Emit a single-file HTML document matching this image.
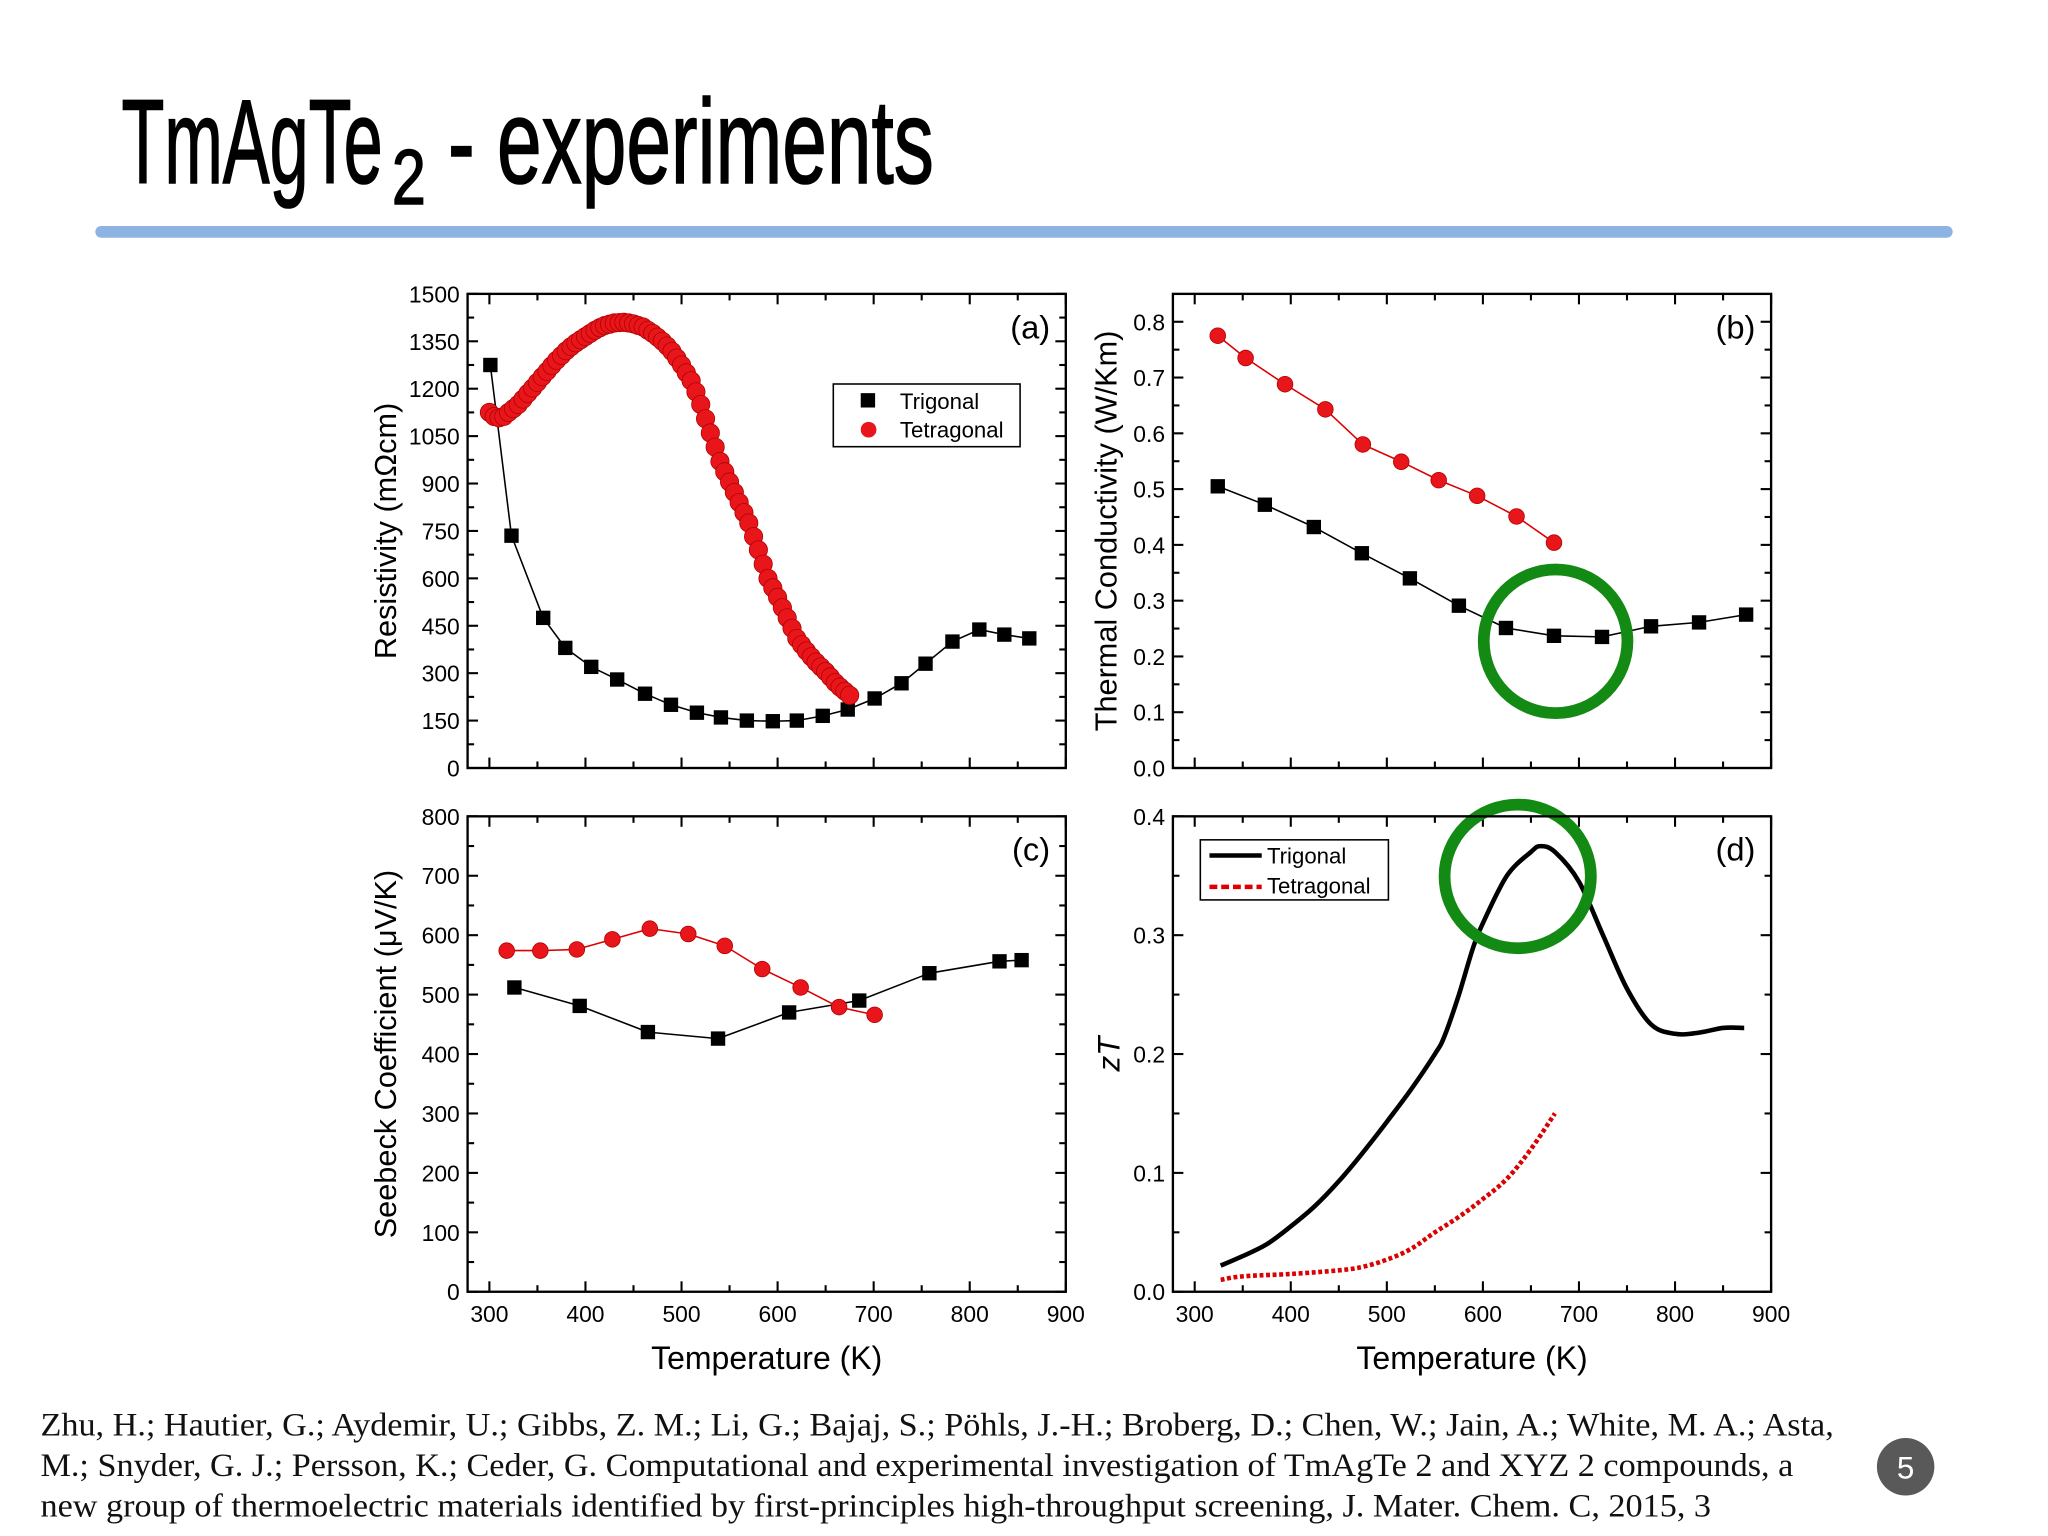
<!DOCTYPE html>
<html><head><meta charset="utf-8"><style>
html,body{margin:0;padding:0;background:#fff;}
svg{display:block;}
</style></head><body>
<svg id="root" xmlns="http://www.w3.org/2000/svg" width="2048" height="1536" viewBox="0 0 1568 1176">
<rect x="0" y="0" width="1568" height="1176" fill="#fff"/>
<g font-family="'Liberation Sans Narrow','Liberation Sans',sans-serif" fill="#000" stroke="#000" stroke-width="1.2">
<text x="93" y="140" font-size="92" textLength="200" lengthAdjust="spacingAndGlyphs">TmAgTe</text>
<text x="300" y="156" font-size="60" textLength="26" lengthAdjust="spacingAndGlyphs">2</text>
<text x="343" y="140" font-size="92" textLength="372" lengthAdjust="spacingAndGlyphs">- experiments</text>
</g>
<rect x="73" y="173" width="1422" height="9" rx="4.5" fill="#8db3e2"/>
<g id="charts"></g>
<g font-family="'Liberation Serif',serif" font-size="25" fill="#111">
<text x="31" y="1099" textLength="1373" lengthAdjust="spacingAndGlyphs">Zhu, H.; Hautier, G.; Aydemir, U.; Gibbs, Z. M.; Li, G.; Bajaj, S.; Pöhls, J.-H.; Broberg, D.; Chen, W.; Jain, A.; White, M. A.; Asta,</text>
<text x="31" y="1130" textLength="1342" lengthAdjust="spacingAndGlyphs">M.; Snyder, G. J.; Persson, K.; Ceder, G. Computational and experimental investigation of TmAgTe 2 and XYZ 2 compounds, a</text>
<text x="31" y="1161" textLength="1279" lengthAdjust="spacingAndGlyphs">new group of thermoelectric materials identified by first-principles high-throughput screening, J. Mater. Chem. C, 2015, 3</text>
</g>
<g>
<circle cx="1459" cy="1123" r="22" fill="#595959"/>
<text x="1459" y="1132" font-size="24" fill="#fff" text-anchor="middle" font-family="'Liberation Sans Narrow','Liberation Sans',sans-serif">5</text>
</g>
</svg>
<script>
// Panel (a) resistivity
const aTrigT = [301,323,356,379,406,433,462,489,516,541,568,595,620,647,673,701,729,754,782,810,836,862];
const aTrigV = [1275,735,475,380,320,280,235,200,175,160,150,148,150,165,185,220,268,330,400,438,422,410];
const aTetT = [300,305,310,315,320,325,330,335,340,345,350,355,360,365,370,375,380,385,390,395,400,405,410,415,420,425,430,435,440,445,450,455,460,465,470,475,480,485,490,495,500,505,510,515,520,525,530,535,540,545,550,555,560,565,570,575,580,585,590,595,600,605,610,615,620,625,630,635,640,645,650,655,660,665,670,675];
const aTetV = [1125,1112,1108,1112,1125,1137,1150,1167,1185,1202,1220,1238,1255,1273,1290,1305,1320,1333,1345,1355,1365,1375,1385,1393,1400,1404,1408,1409,1410,1408,1405,1400,1395,1385,1375,1363,1350,1335,1318,1297,1275,1250,1225,1190,1150,1105,1060,1015,970,937,905,872,840,808,775,732,690,645,600,570,540,507,475,442,410,390,370,352,335,320,305,288,270,256,243,230];
const aYTicks = [0,150,300,450,600,750,900,1050,1200,1350,1500];
// Panel (b) thermal conductivity
const bTrigT = [324,373,424,474,524,575,624,674,724,775,825,874];
const bTrigV = [0.505,0.472,0.432,0.385,0.34,0.291,0.251,0.237,0.235,0.254,0.261,0.275];
const bTetT = [324,353,394,436,475,515,554,594,635,674];
const bTetV = [0.775,0.735,0.688,0.643,0.58,0.549,0.516,0.488,0.451,0.404];
const bYTicks = [0,0.1,0.2,0.3,0.4,0.5,0.6,0.7,0.8];
// Panel (c) Seebeck
const cTrigT = [326,394,465,538,612,685,758,831,854];
const cTrigV = [512,481,437,426,470,490,536,556,558];
const cTetT = [318,353,391,428,467,507,545,584,624,664,701];
const cTetV = [574,574,576,593,611,602,582,543,512,479,466];
const cYTicks = [0,100,200,300,400,500,600,700,800];
// Panel (d) zT
const dTrigT = [327,350,375,400,425,450,475,500,525,550,560,575,590,600,625,650,660,675,700,725,750,775,800,825,850,872];
const dTrigV = [0.022,0.03,0.04,0.055,0.072,0.093,0.117,0.143,0.17,0.2,0.215,0.25,0.29,0.31,0.35,0.37,0.375,0.37,0.345,0.3,0.255,0.225,0.217,0.218,0.222,0.222];
const dTetT = [327,350,400,450,475,500,525,550,575,600,625,650,675];
const dTetV = [0.01,0.013,0.015,0.018,0.021,0.027,0.036,0.05,0.063,0.078,0.095,0.12,0.15];
const dYTicks = [0,0.1,0.2,0.3,0.4];
const xTicks = [300,400,500,600,700,800,900];

const NS='http://www.w3.org/2000/svg';
const root=document.getElementById('charts');
function mk(tag,attrs,parent){const e=document.createElementNS(NS,tag);for(const k in attrs)e.setAttribute(k,attrs[k]);(parent||root).appendChild(e);return e;}
const FONT="'Liberation Sans',sans-serif";

function panel(o){
  const g=mk('g',{});
  
  
  const X=t=>o.L+(t-277.3)*(o.R-o.L)/(900-277.3);
  const Y=v=>o.B-v*(o.B-o.T)/o.ymax;
  const tg=mk('g',{stroke:'#000','stroke-width':1.6},g);
  
  
  for(let t=300;t<=900;t+=50){const x=X(t);const len=(t%100===0)?8:5;
    mk('line',{x1:x,y1:o.B,x2:x,y2:o.B-len},tg);mk('line',{x1:x,y1:o.T,x2:x,y2:o.T+len},tg);}
  for(let i=0;i<o.yt.length;i++){const v=o.yt[i];const y=Y(v);
    mk('line',{x1:o.L,y1:y,x2:o.L+8,y2:y},tg);mk('line',{x1:o.R,y1:y,x2:o.R-8,y2:y},tg);
    if(i<o.yt.length-1){const ym=Y(v+(o.yt[1]-o.yt[0])/2);mk('line',{x1:o.L,y1:ym,x2:o.L+5,y2:ym},tg);mk('line',{x1:o.R,y1:ym,x2:o.R-5,y2:ym},tg);}
    const tl=mk('text',{x:o.L-6,y:y+6.5,'font-size':17.5,'text-anchor':'end','font-family':FONT},g);
    tl.textContent=o.fmt(v);
    
    
  }
  if(o.showX){for(const t of xTicks){const tl=mk('text',{x:X(t),y:o.B+23,'font-size':17.5,'text-anchor':'middle','font-family':FONT},g);tl.textContent=t;
    
    }
    const xt=mk('text',{x:(o.L+o.R)/2,y:o.B+59,'font-size':24.5,'text-anchor':'middle','font-family':FONT},g);xt.textContent='Temperature (K)';
    
    }
  const yt=mk('text',{x:0,y:0,'font-size':o.yfs||23.5,'text-anchor':'middle','font-family':FONT,transform:`translate(${o.ytx},${(o.T+o.B)/2+o.yty}) rotate(-90)`,'font-style':o.yital?'italic':'normal'},g);
  yt.textContent=o.ytitle;
  
  
  const lab=mk('text',{x:o.R-12,y:o.T+34,'font-size':25,'text-anchor':'end','font-family':FONT},g);lab.textContent=o.label;
  
  
  o.draw(g,X,Y);
  const fr=mk('rect',{x:o.L,y:o.T,width:o.R-o.L,height:o.B-o.T,fill:'none',stroke:'#000','stroke-width':1.8},g);
  
  
  return g;
}
function pts(T,V,X,Y){return T.map((t,i)=>X(t).toFixed(1)+','+Y(V[i]).toFixed(1)).join(' ');}
function smoothPath(T,V,X,Y){const P=T.map((t,i)=>[X(t),Y(V[i])]);let d='M'+P[0][0].toFixed(1)+','+P[0][1].toFixed(1);
  for(let i=0;i<P.length-1;i++){const p0=P[Math.max(0,i-1)],p1=P[i],p2=P[i+1],p3=P[Math.min(P.length-1,i+2)];
    const c1=[p1[0]+(p2[0]-p0[0])/6,p1[1]+(p2[1]-p0[1])/6],c2=[p2[0]-(p3[0]-p1[0])/6,p2[1]-(p3[1]-p1[1])/6];
    d+=' C'+c1[0].toFixed(1)+','+c1[1].toFixed(1)+' '+c2[0].toFixed(1)+','+c2[1].toFixed(1)+' '+p2[0].toFixed(1)+','+p2[1].toFixed(1);}
  return d;}
function squares(g,T,V,X,Y,s,name){for(let i=0;i<T.length;i++){const r=mk('rect',{x:X(T[i])-s/2,y:Y(V[i])-s/2,width:s,height:s,fill:'#000'},g);
  
  }}
function circles(g,T,V,X,Y,r,name){for(let i=0;i<T.length;i++){const c=mk('circle',{cx:X(T[i]),cy:Y(V[i]),r:r,fill:'#e8161b',stroke:'#b00000','stroke-width':0.6},g);
  
  }}
function lineS(g,T,V,X,Y,color,w,name,dash){const p=mk('polyline',{points:pts(T,V,X,Y),fill:'none',stroke:color,'stroke-width':w,'stroke-linejoin':'round'},g);if(dash)p.setAttribute('stroke-dasharray',dash);
  
  }
function curveS(g,T,V,X,Y,color,w,name,dash){const p=mk('path',{d:smoothPath(T,V,X,Y),fill:'none',stroke:color,'stroke-width':w,'stroke-linejoin':'round'},g);if(dash)p.setAttribute('stroke-dasharray',dash);
  
  }

panel({name:'panel-a-resistivity',L:358,R:816,T:225,B:588,ymax:1500,yt:aYTicks,fmt:v=>v,showX:false,ytitle:'Resistivity (mΩcm)',ytx:303,yty:0,label:'(a)',
 draw:(g,X,Y)=>{lineS(g,aTrigT,aTrigV,X,Y,'#000',1.2,'trigonal-line');squares(g,aTrigT,aTrigV,X,Y,11,'trigonal-point');circles(g,aTetT,aTetV,X,Y,7,'tetragonal-point');
  const lg=mk('g',{},g);
  mk('rect',{x:638,y:294,width:143,height:48,fill:'#fff',stroke:'#000','stroke-width':1.2},lg);
  mk('rect',{x:659,y:301,width:11,height:11,fill:'#000'},lg);
  mk('circle',{cx:665,cy:329,r:6,fill:'#e8161b'},lg);
  const t1=mk('text',{x:689,y:313,'font-size':17,'font-family':FONT},lg);t1.textContent='Trigonal';
  const t2=mk('text',{x:689,y:335,'font-size':17,'font-family':FONT},lg);t2.textContent='Tetragonal';}});

panel({name:'panel-b-thermal-conductivity',L:898,R:1356,T:225,B:588,ymax:0.85,yt:bYTicks,fmt:v=>v.toFixed(1),showX:false,ytitle:'Thermal Conductivity (W/Km)',ytx:855,yty:0,label:'(b)',
 draw:(g,X,Y)=>{lineS(g,bTetT,bTetV,X,Y,'#d00',1.2,'tetragonal-line');lineS(g,bTrigT,bTrigV,X,Y,'#000',1.2,'trigonal-line');
  squares(g,bTrigT,bTrigV,X,Y,11,'trigonal-point');circles(g,bTetT,bTetV,X,Y,6,'tetragonal-point');
  const c=mk('ellipse',{cx:1191,cy:491,rx:55,ry:55,fill:'none',stroke:'#138a13','stroke-width':9},g);
  }});

panel({name:'panel-c-seebeck',L:358,R:816,T:625,B:989,ymax:800,yt:cYTicks,fmt:v=>v,showX:true,ytitle:'Seebeck Coefficient (μV/K)',ytx:303,yty:0,label:'(c)',
 draw:(g,X,Y)=>{lineS(g,cTetT,cTetV,X,Y,'#d00',1.2,'tetragonal-line');lineS(g,cTrigT,cTrigV,X,Y,'#000',1.2,'trigonal-line');
  squares(g,cTrigT,cTrigV,X,Y,11,'trigonal-point');circles(g,cTetT,cTetV,X,Y,6,'tetragonal-point');}});

panel({name:'panel-d-zt',L:898,R:1356,T:625,B:989,ymax:0.4,yt:dYTicks,fmt:v=>v.toFixed(1),showX:true,ytitle:'zT',yital:true,yfs:24,ytx:857,yty:0,label:'(d)',
 draw:(g,X,Y)=>{curveS(g,dTrigT,dTrigV,X,Y,'#000',3.5,'trigonal-curve');curveS(g,dTetT,dTetV,X,Y,'#d00',3.5,'tetragonal-curve','3,2');
  const lg=mk('g',{},g);
  mk('rect',{x:919,y:643,width:144,height:46,fill:'#fff',stroke:'#000','stroke-width':1.2},lg);
  mk('line',{x1:926,y1:655,x2:966,y2:655,stroke:'#000','stroke-width':3.5},lg);
  mk('line',{x1:926,y1:679,x2:966,y2:679,stroke:'#d00','stroke-width':3.5,'stroke-dasharray':'6,3'},lg);
  const t1=mk('text',{x:970,y:661,'font-size':17,'font-family':FONT},lg);t1.textContent='Trigonal';
  const t2=mk('text',{x:970,y:684,'font-size':17,'font-family':FONT},lg);t2.textContent='Tetragonal';
  const c=mk('ellipse',{cx:1162,cy:671,rx:56,ry:55,fill:'none',stroke:'#138a13','stroke-width':9},g);
  }});
</script>
</body></html>
